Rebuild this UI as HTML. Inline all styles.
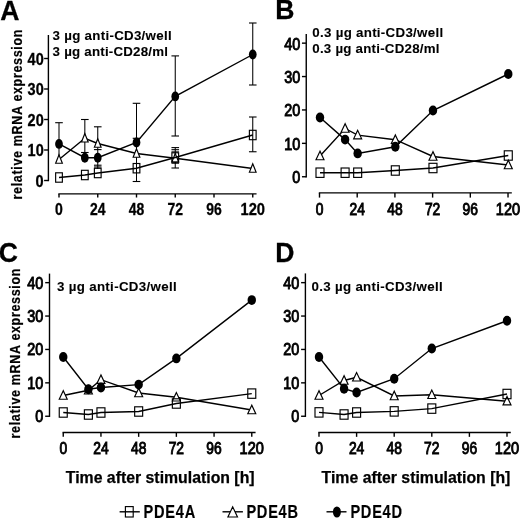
<!DOCTYPE html>
<html><head><meta charset="utf-8"><title>Figure</title>
<style>
html,body{margin:0;padding:0;background:#fff;}
svg{display:block;}
text{font-family:'Liberation Sans', Arial, sans-serif;font-weight:bold;fill:#000;}
text.n{font-weight:normal;}
</style></head><body>
<svg width="520" height="519" viewBox="0 0 520 519">
<rect width="520" height="519" fill="#fff"/>
<line x1="48.40" y1="35.00" x2="48.40" y2="181.20" stroke="#000" stroke-width="1.4"/>
<line x1="44.10" y1="180.50" x2="48.40" y2="180.50" stroke="#000" stroke-width="1.4"/>
<text x="43.70" y="186.50" font-size="15.8" text-anchor="end" textLength="8.1" lengthAdjust="spacingAndGlyphs" stroke="#000" stroke-width="0.3">0</text>
<line x1="44.10" y1="150.00" x2="48.40" y2="150.00" stroke="#000" stroke-width="1.4"/>
<text x="43.70" y="156.00" font-size="15.8" text-anchor="end" textLength="16.1" lengthAdjust="spacingAndGlyphs" stroke="#000" stroke-width="0.3">10</text>
<line x1="44.10" y1="119.50" x2="48.40" y2="119.50" stroke="#000" stroke-width="1.4"/>
<text x="43.70" y="125.50" font-size="15.8" text-anchor="end" textLength="16.1" lengthAdjust="spacingAndGlyphs" stroke="#000" stroke-width="0.3">20</text>
<line x1="44.10" y1="89.00" x2="48.40" y2="89.00" stroke="#000" stroke-width="1.4"/>
<text x="43.70" y="95.00" font-size="15.8" text-anchor="end" textLength="16.1" lengthAdjust="spacingAndGlyphs" stroke="#000" stroke-width="0.3">30</text>
<line x1="44.10" y1="58.50" x2="48.40" y2="58.50" stroke="#000" stroke-width="1.4"/>
<text x="43.70" y="64.50" font-size="15.8" text-anchor="end" textLength="16.1" lengthAdjust="spacingAndGlyphs" stroke="#000" stroke-width="0.3">40</text>
<line x1="58.30" y1="193.90" x2="256.55" y2="193.90" stroke="#000" stroke-width="1.4"/>
<line x1="59.00" y1="193.90" x2="59.00" y2="197.50" stroke="#000" stroke-width="1.4"/>
<text x="59.00" y="214.70" font-size="15.8" text-anchor="middle" textLength="7.8" lengthAdjust="spacingAndGlyphs" stroke="#000" stroke-width="0.3">0</text>
<line x1="97.75" y1="193.90" x2="97.75" y2="197.50" stroke="#000" stroke-width="1.4"/>
<text x="97.75" y="214.70" font-size="15.8" text-anchor="middle" textLength="15.5" lengthAdjust="spacingAndGlyphs" stroke="#000" stroke-width="0.3">24</text>
<line x1="136.50" y1="193.90" x2="136.50" y2="197.50" stroke="#000" stroke-width="1.4"/>
<text x="136.50" y="214.70" font-size="15.8" text-anchor="middle" textLength="15.5" lengthAdjust="spacingAndGlyphs" stroke="#000" stroke-width="0.3">48</text>
<line x1="175.25" y1="193.90" x2="175.25" y2="197.50" stroke="#000" stroke-width="1.4"/>
<text x="175.25" y="214.70" font-size="15.8" text-anchor="middle" textLength="15.5" lengthAdjust="spacingAndGlyphs" stroke="#000" stroke-width="0.3">72</text>
<line x1="214.00" y1="193.90" x2="214.00" y2="197.50" stroke="#000" stroke-width="1.4"/>
<text x="214.00" y="214.70" font-size="15.8" text-anchor="middle" textLength="15.5" lengthAdjust="spacingAndGlyphs" stroke="#000" stroke-width="0.3">96</text>
<line x1="252.75" y1="193.90" x2="252.75" y2="197.50" stroke="#000" stroke-width="1.4"/>
<text x="252.75" y="214.70" font-size="15.8" text-anchor="middle" textLength="24.5" lengthAdjust="spacingAndGlyphs" stroke="#000" stroke-width="0.3">120</text>
<text transform="translate(0.20,19.60) scale(0.97,1)" font-size="27.4" text-anchor="start" stroke="#000" stroke-width="0.3">A</text>
<text transform="translate(52.60,40.10) scale(1.0,1)" font-size="13.3" text-anchor="start" textLength="119.00" lengthAdjust="spacing" stroke="#000" stroke-width="0.1">3 µg anti-CD3/well</text>
<text transform="translate(52.60,55.95) scale(1.0,1)" font-size="13.3" text-anchor="start" textLength="115.40" lengthAdjust="spacing" stroke="#000" stroke-width="0.1">3 µg anti-CD28/ml</text>
<line x1="59.00" y1="122.70" x2="59.00" y2="159.00" stroke="#000" stroke-width="1.05"/>
<line x1="84.83" y1="119.50" x2="84.83" y2="157.00" stroke="#000" stroke-width="1.05"/>
<line x1="97.75" y1="126.80" x2="97.75" y2="169.00" stroke="#000" stroke-width="1.05"/>
<line x1="136.50" y1="103.30" x2="136.50" y2="181.50" stroke="#000" stroke-width="1.05"/>
<line x1="175.25" y1="55.90" x2="175.25" y2="136.00" stroke="#000" stroke-width="1.05"/>
<line x1="175.25" y1="147.60" x2="175.25" y2="168.00" stroke="#000" stroke-width="1.05"/>
<line x1="252.75" y1="23.00" x2="252.75" y2="85.00" stroke="#000" stroke-width="1.05"/>
<line x1="252.75" y1="117.00" x2="252.75" y2="151.75" stroke="#000" stroke-width="1.05"/>
<line x1="55.20" y1="122.70" x2="62.80" y2="122.70" stroke="#000" stroke-width="1.1"/>
<line x1="81.03" y1="119.50" x2="88.63" y2="119.50" stroke="#000" stroke-width="1.1"/>
<line x1="81.03" y1="152.50" x2="88.63" y2="152.50" stroke="#000" stroke-width="1.1"/>
<line x1="93.95" y1="126.80" x2="101.55" y2="126.80" stroke="#000" stroke-width="1.1"/>
<line x1="93.95" y1="149.60" x2="101.55" y2="149.60" stroke="#000" stroke-width="1.1"/>
<line x1="93.95" y1="165.20" x2="101.55" y2="165.20" stroke="#000" stroke-width="1.1"/>
<line x1="93.95" y1="167.00" x2="101.55" y2="167.00" stroke="#000" stroke-width="1.1"/>
<line x1="132.70" y1="103.30" x2="140.30" y2="103.30" stroke="#000" stroke-width="1.1"/>
<line x1="132.70" y1="138.30" x2="140.30" y2="138.30" stroke="#000" stroke-width="1.1"/>
<line x1="132.70" y1="181.50" x2="140.30" y2="181.50" stroke="#000" stroke-width="1.1"/>
<line x1="171.45" y1="55.90" x2="179.05" y2="55.90" stroke="#000" stroke-width="1.1"/>
<line x1="171.45" y1="136.00" x2="179.05" y2="136.00" stroke="#000" stroke-width="1.1"/>
<line x1="171.45" y1="147.60" x2="179.05" y2="147.60" stroke="#000" stroke-width="1.1"/>
<line x1="171.45" y1="149.70" x2="179.05" y2="149.70" stroke="#000" stroke-width="1.1"/>
<line x1="171.45" y1="151.90" x2="179.05" y2="151.90" stroke="#000" stroke-width="1.1"/>
<line x1="171.45" y1="163.20" x2="179.05" y2="163.20" stroke="#000" stroke-width="1.1"/>
<line x1="171.45" y1="168.00" x2="179.05" y2="168.00" stroke="#000" stroke-width="1.1"/>
<line x1="248.95" y1="23.00" x2="256.55" y2="23.00" stroke="#000" stroke-width="1.1"/>
<line x1="248.95" y1="85.00" x2="256.55" y2="85.00" stroke="#000" stroke-width="1.1"/>
<line x1="248.95" y1="117.00" x2="256.55" y2="117.00" stroke="#000" stroke-width="1.1"/>
<line x1="248.95" y1="151.75" x2="256.55" y2="151.75" stroke="#000" stroke-width="1.1"/>
<polyline points="59.00,159.50 84.83,138.30 97.75,143.50 136.50,153.50 175.25,158.30 252.75,168.50" fill="none" stroke="#000" stroke-width="1.4"/>
<polygon points="59.00,154.70 55.64,163.20 62.36,163.20" fill="#fff" stroke="#000" stroke-width="1.15" stroke-linejoin="miter"/>
<polygon points="84.83,133.50 81.47,142.00 88.19,142.00" fill="#fff" stroke="#000" stroke-width="1.15" stroke-linejoin="miter"/>
<polygon points="97.75,138.70 94.39,147.20 101.11,147.20" fill="#fff" stroke="#000" stroke-width="1.15" stroke-linejoin="miter"/>
<polygon points="136.50,148.70 133.14,157.20 139.86,157.20" fill="#fff" stroke="#000" stroke-width="1.15" stroke-linejoin="miter"/>
<polygon points="175.25,153.50 171.89,162.00 178.61,162.00" fill="#fff" stroke="#000" stroke-width="1.15" stroke-linejoin="miter"/>
<polygon points="252.75,163.70 249.39,172.20 256.11,172.20" fill="#fff" stroke="#000" stroke-width="1.15" stroke-linejoin="miter"/>
<polyline points="59.00,177.50 84.83,175.00 97.75,173.00 136.50,168.20 175.25,157.50 252.75,135.00" fill="none" stroke="#000" stroke-width="1.4"/>
<rect x="55.64" y="172.80" width="6.72" height="9.40" fill="none" stroke="#000" stroke-width="1.15"/>
<rect x="81.47" y="170.30" width="6.72" height="9.40" fill="none" stroke="#000" stroke-width="1.15"/>
<rect x="94.39" y="168.30" width="6.72" height="9.40" fill="none" stroke="#000" stroke-width="1.15"/>
<rect x="133.14" y="163.50" width="6.72" height="9.40" fill="none" stroke="#000" stroke-width="1.15"/>
<rect x="171.89" y="152.80" width="6.72" height="9.40" fill="none" stroke="#000" stroke-width="1.15"/>
<rect x="249.39" y="130.30" width="6.72" height="9.40" fill="none" stroke="#000" stroke-width="1.15"/>
<polyline points="59.00,143.90 84.83,157.70 97.75,157.70 136.50,142.50 175.25,96.40 252.75,54.50" fill="none" stroke="#000" stroke-width="1.4"/>
<ellipse cx="59.00" cy="143.90" rx="3.86" ry="4.95" fill="#000"/>
<ellipse cx="84.83" cy="157.70" rx="3.86" ry="4.95" fill="#000"/>
<ellipse cx="97.75" cy="157.70" rx="3.86" ry="4.95" fill="#000"/>
<ellipse cx="136.50" cy="142.50" rx="3.86" ry="4.95" fill="#000"/>
<ellipse cx="175.25" cy="96.40" rx="3.86" ry="4.95" fill="#000"/>
<ellipse cx="252.75" cy="54.50" rx="3.86" ry="4.95" fill="#000"/>
<line x1="306.25" y1="34.00" x2="306.25" y2="177.45" stroke="#000" stroke-width="1.4"/>
<line x1="301.95" y1="176.75" x2="306.25" y2="176.75" stroke="#000" stroke-width="1.4"/>
<text x="300.20" y="183.25" font-size="15.8" text-anchor="end" textLength="8.0" lengthAdjust="spacingAndGlyphs" class="n" stroke="#000" stroke-width="0.9">0</text>
<line x1="301.95" y1="143.35" x2="306.25" y2="143.35" stroke="#000" stroke-width="1.4"/>
<text x="300.20" y="149.85" font-size="15.8" text-anchor="end" textLength="16.0" lengthAdjust="spacingAndGlyphs" class="n" stroke="#000" stroke-width="0.9">10</text>
<line x1="301.95" y1="109.95" x2="306.25" y2="109.95" stroke="#000" stroke-width="1.4"/>
<text x="300.20" y="116.45" font-size="15.8" text-anchor="end" textLength="16.0" lengthAdjust="spacingAndGlyphs" class="n" stroke="#000" stroke-width="0.9">20</text>
<line x1="301.95" y1="76.55" x2="306.25" y2="76.55" stroke="#000" stroke-width="1.4"/>
<text x="300.20" y="83.05" font-size="15.8" text-anchor="end" textLength="16.0" lengthAdjust="spacingAndGlyphs" class="n" stroke="#000" stroke-width="0.9">30</text>
<line x1="301.95" y1="43.15" x2="306.25" y2="43.15" stroke="#000" stroke-width="1.4"/>
<text x="300.20" y="49.65" font-size="15.8" text-anchor="end" textLength="16.0" lengthAdjust="spacingAndGlyphs" class="n" stroke="#000" stroke-width="0.9">40</text>
<line x1="318.80" y1="192.90" x2="511.82" y2="192.90" stroke="#000" stroke-width="1.4"/>
<line x1="319.50" y1="192.90" x2="319.50" y2="197.60" stroke="#000" stroke-width="1.4"/>
<text x="319.50" y="214.90" font-size="15.8" text-anchor="middle" textLength="7.7" lengthAdjust="spacingAndGlyphs" class="n" stroke="#000" stroke-width="0.9">0</text>
<line x1="357.20" y1="192.90" x2="357.20" y2="197.60" stroke="#000" stroke-width="1.4"/>
<text x="357.20" y="214.90" font-size="15.8" text-anchor="middle" textLength="15.4" lengthAdjust="spacingAndGlyphs" class="n" stroke="#000" stroke-width="0.9">24</text>
<line x1="394.91" y1="192.90" x2="394.91" y2="197.60" stroke="#000" stroke-width="1.4"/>
<text x="394.91" y="214.90" font-size="15.8" text-anchor="middle" textLength="15.4" lengthAdjust="spacingAndGlyphs" class="n" stroke="#000" stroke-width="0.9">48</text>
<line x1="432.61" y1="192.90" x2="432.61" y2="197.60" stroke="#000" stroke-width="1.4"/>
<text x="432.61" y="214.90" font-size="15.8" text-anchor="middle" textLength="15.4" lengthAdjust="spacingAndGlyphs" class="n" stroke="#000" stroke-width="0.9">72</text>
<line x1="470.32" y1="192.90" x2="470.32" y2="197.60" stroke="#000" stroke-width="1.4"/>
<text x="470.32" y="214.90" font-size="15.8" text-anchor="middle" textLength="15.4" lengthAdjust="spacingAndGlyphs" class="n" stroke="#000" stroke-width="0.9">96</text>
<line x1="508.02" y1="192.90" x2="508.02" y2="197.60" stroke="#000" stroke-width="1.4"/>
<text x="508.02" y="214.90" font-size="15.8" text-anchor="middle" textLength="24.3" lengthAdjust="spacingAndGlyphs" class="n" stroke="#000" stroke-width="0.9">120</text>
<text transform="translate(275.30,19.30) scale(0.97,1)" font-size="27.4" text-anchor="start" stroke="#000" stroke-width="0.3">B</text>
<text transform="translate(312.30,37.20) scale(1.0,1)" font-size="13.3" text-anchor="start" textLength="130.80" lengthAdjust="spacing" stroke="#000" stroke-width="0.1">0.3 µg anti-CD3/well</text>
<text transform="translate(312.30,53.30) scale(1.0,1)" font-size="13.3" text-anchor="start" textLength="127.20" lengthAdjust="spacing" stroke="#000" stroke-width="0.1">0.3 µg anti-CD28/ml</text>
<polyline points="320.00,156.00 345.10,128.50 357.66,135.10 395.31,139.70 432.97,156.50 508.28,165.00" fill="none" stroke="#000" stroke-width="1.4"/>
<polygon points="320.00,151.20 316.00,159.70 324.00,159.70" fill="#fff" stroke="#000" stroke-width="1.15" stroke-linejoin="miter"/>
<polygon points="345.10,123.70 341.10,132.20 349.10,132.20" fill="#fff" stroke="#000" stroke-width="1.15" stroke-linejoin="miter"/>
<polygon points="357.66,130.30 353.66,138.80 361.66,138.80" fill="#fff" stroke="#000" stroke-width="1.15" stroke-linejoin="miter"/>
<polygon points="395.31,134.90 391.31,143.40 399.31,143.40" fill="#fff" stroke="#000" stroke-width="1.15" stroke-linejoin="miter"/>
<polygon points="432.97,151.70 428.97,160.20 436.97,160.20" fill="#fff" stroke="#000" stroke-width="1.15" stroke-linejoin="miter"/>
<polygon points="508.28,160.20 504.28,168.70 512.28,168.70" fill="#fff" stroke="#000" stroke-width="1.15" stroke-linejoin="miter"/>
<polyline points="320.00,172.70 345.10,172.70 357.66,172.70 395.31,170.50 432.97,168.00 508.28,155.50" fill="none" stroke="#000" stroke-width="1.4"/>
<rect x="316.00" y="168.00" width="8.00" height="9.40" fill="none" stroke="#000" stroke-width="1.15"/>
<rect x="341.10" y="168.00" width="8.00" height="9.40" fill="none" stroke="#000" stroke-width="1.15"/>
<rect x="353.66" y="168.00" width="8.00" height="9.40" fill="none" stroke="#000" stroke-width="1.15"/>
<rect x="391.31" y="165.80" width="8.00" height="9.40" fill="none" stroke="#000" stroke-width="1.15"/>
<rect x="428.97" y="163.30" width="8.00" height="9.40" fill="none" stroke="#000" stroke-width="1.15"/>
<rect x="504.28" y="150.80" width="8.00" height="9.40" fill="none" stroke="#000" stroke-width="1.15"/>
<polyline points="320.00,117.50 345.10,139.60 357.66,153.40 395.31,146.75 432.97,110.50 508.28,74.00" fill="none" stroke="#000" stroke-width="1.4"/>
<ellipse cx="320.00" cy="117.50" rx="4.20" ry="4.95" fill="#000"/>
<ellipse cx="345.10" cy="139.60" rx="4.20" ry="4.95" fill="#000"/>
<ellipse cx="357.66" cy="153.40" rx="4.20" ry="4.95" fill="#000"/>
<ellipse cx="395.31" cy="146.75" rx="4.20" ry="4.95" fill="#000"/>
<ellipse cx="432.97" cy="110.50" rx="4.20" ry="4.95" fill="#000"/>
<ellipse cx="508.28" cy="74.00" rx="4.20" ry="4.95" fill="#000"/>
<line x1="49.50" y1="273.60" x2="49.50" y2="416.95" stroke="#000" stroke-width="1.4"/>
<line x1="45.20" y1="416.25" x2="49.50" y2="416.25" stroke="#000" stroke-width="1.4"/>
<text x="43.30" y="422.25" font-size="15.8" text-anchor="end" textLength="8.0" lengthAdjust="spacingAndGlyphs" class="n" stroke="#000" stroke-width="0.9">0</text>
<line x1="45.20" y1="382.85" x2="49.50" y2="382.85" stroke="#000" stroke-width="1.4"/>
<text x="43.30" y="388.85" font-size="15.8" text-anchor="end" textLength="16.0" lengthAdjust="spacingAndGlyphs" class="n" stroke="#000" stroke-width="0.9">10</text>
<line x1="45.20" y1="349.45" x2="49.50" y2="349.45" stroke="#000" stroke-width="1.4"/>
<text x="43.30" y="355.45" font-size="15.8" text-anchor="end" textLength="16.0" lengthAdjust="spacingAndGlyphs" class="n" stroke="#000" stroke-width="0.9">20</text>
<line x1="45.20" y1="316.05" x2="49.50" y2="316.05" stroke="#000" stroke-width="1.4"/>
<text x="43.30" y="322.05" font-size="15.8" text-anchor="end" textLength="16.0" lengthAdjust="spacingAndGlyphs" class="n" stroke="#000" stroke-width="0.9">30</text>
<line x1="45.20" y1="282.65" x2="49.50" y2="282.65" stroke="#000" stroke-width="1.4"/>
<text x="43.30" y="288.65" font-size="15.8" text-anchor="end" textLength="16.0" lengthAdjust="spacingAndGlyphs" class="n" stroke="#000" stroke-width="0.9">40</text>
<line x1="62.55" y1="432.45" x2="255.57" y2="432.45" stroke="#000" stroke-width="1.4"/>
<line x1="63.25" y1="432.45" x2="63.25" y2="436.85" stroke="#000" stroke-width="1.4"/>
<text x="63.25" y="454.40" font-size="15.8" text-anchor="middle" textLength="7.7" lengthAdjust="spacingAndGlyphs" class="n" stroke="#000" stroke-width="0.9">0</text>
<line x1="100.95" y1="432.45" x2="100.95" y2="436.85" stroke="#000" stroke-width="1.4"/>
<text x="100.95" y="454.40" font-size="15.8" text-anchor="middle" textLength="15.4" lengthAdjust="spacingAndGlyphs" class="n" stroke="#000" stroke-width="0.9">24</text>
<line x1="138.66" y1="432.45" x2="138.66" y2="436.85" stroke="#000" stroke-width="1.4"/>
<text x="138.66" y="454.40" font-size="15.8" text-anchor="middle" textLength="15.4" lengthAdjust="spacingAndGlyphs" class="n" stroke="#000" stroke-width="0.9">48</text>
<line x1="176.36" y1="432.45" x2="176.36" y2="436.85" stroke="#000" stroke-width="1.4"/>
<text x="176.36" y="454.40" font-size="15.8" text-anchor="middle" textLength="15.4" lengthAdjust="spacingAndGlyphs" class="n" stroke="#000" stroke-width="0.9">72</text>
<line x1="214.07" y1="432.45" x2="214.07" y2="436.85" stroke="#000" stroke-width="1.4"/>
<text x="214.07" y="454.40" font-size="15.8" text-anchor="middle" textLength="15.4" lengthAdjust="spacingAndGlyphs" class="n" stroke="#000" stroke-width="0.9">96</text>
<line x1="251.77" y1="432.45" x2="251.77" y2="436.85" stroke="#000" stroke-width="1.4"/>
<text x="251.77" y="454.40" font-size="15.8" text-anchor="middle" textLength="24.3" lengthAdjust="spacingAndGlyphs" class="n" stroke="#000" stroke-width="0.9">120</text>
<text transform="translate(-1.30,262.40) scale(0.97,1)" font-size="27.4" text-anchor="start" stroke="#000" stroke-width="0.3">C</text>
<text transform="translate(57.00,290.50) scale(1.0,1)" font-size="13.3" text-anchor="start" textLength="119.60" lengthAdjust="spacing" stroke="#000" stroke-width="0.1">3 µg anti-CD3/well</text>
<polyline points="63.25,395.50 88.39,390.30 100.95,379.70 138.66,393.00 176.36,397.30 251.77,410.00" fill="none" stroke="#000" stroke-width="1.4"/>
<polygon points="63.25,390.70 59.25,399.20 67.25,399.20" fill="#fff" stroke="#000" stroke-width="1.15" stroke-linejoin="miter"/>
<polygon points="88.39,385.50 84.39,394.00 92.39,394.00" fill="#fff" stroke="#000" stroke-width="1.15" stroke-linejoin="miter"/>
<polygon points="100.95,374.90 96.95,383.40 104.95,383.40" fill="#fff" stroke="#000" stroke-width="1.15" stroke-linejoin="miter"/>
<polygon points="138.66,388.20 134.66,396.70 142.66,396.70" fill="#fff" stroke="#000" stroke-width="1.15" stroke-linejoin="miter"/>
<polygon points="176.36,392.50 172.36,401.00 180.36,401.00" fill="#fff" stroke="#000" stroke-width="1.15" stroke-linejoin="miter"/>
<polygon points="251.77,405.20 247.77,413.70 255.77,413.70" fill="#fff" stroke="#000" stroke-width="1.15" stroke-linejoin="miter"/>
<polyline points="63.25,412.50 88.39,414.50 100.95,412.50 138.66,411.50 176.36,403.50 251.77,393.60" fill="none" stroke="#000" stroke-width="1.4"/>
<rect x="59.25" y="407.80" width="8.00" height="9.40" fill="none" stroke="#000" stroke-width="1.15"/>
<rect x="84.39" y="409.80" width="8.00" height="9.40" fill="none" stroke="#000" stroke-width="1.15"/>
<rect x="96.95" y="407.80" width="8.00" height="9.40" fill="none" stroke="#000" stroke-width="1.15"/>
<rect x="134.66" y="406.80" width="8.00" height="9.40" fill="none" stroke="#000" stroke-width="1.15"/>
<rect x="172.36" y="398.80" width="8.00" height="9.40" fill="none" stroke="#000" stroke-width="1.15"/>
<rect x="247.77" y="388.90" width="8.00" height="9.40" fill="none" stroke="#000" stroke-width="1.15"/>
<polyline points="63.25,357.00 88.39,389.25 100.95,387.50 138.66,384.60 176.36,358.40 251.77,300.10" fill="none" stroke="#000" stroke-width="1.4"/>
<ellipse cx="63.25" cy="357.00" rx="4.20" ry="4.95" fill="#000"/>
<ellipse cx="88.39" cy="389.25" rx="4.20" ry="4.95" fill="#000"/>
<ellipse cx="100.95" cy="387.50" rx="4.20" ry="4.95" fill="#000"/>
<ellipse cx="138.66" cy="384.60" rx="4.20" ry="4.95" fill="#000"/>
<ellipse cx="176.36" cy="358.40" rx="4.20" ry="4.95" fill="#000"/>
<ellipse cx="251.77" cy="300.10" rx="4.20" ry="4.95" fill="#000"/>
<text x="65.80" y="482.60" font-size="15.9" text-anchor="start" textLength="188.8" lengthAdjust="spacingAndGlyphs" stroke="#000" stroke-width="0.25">Time after stimulation [h]</text>
<line x1="305.40" y1="273.40" x2="305.40" y2="416.95" stroke="#000" stroke-width="1.4"/>
<line x1="301.10" y1="416.25" x2="305.40" y2="416.25" stroke="#000" stroke-width="1.4"/>
<text x="299.30" y="422.25" font-size="15.8" text-anchor="end" textLength="8.0" lengthAdjust="spacingAndGlyphs" class="n" stroke="#000" stroke-width="0.9">0</text>
<line x1="301.10" y1="382.85" x2="305.40" y2="382.85" stroke="#000" stroke-width="1.4"/>
<text x="299.30" y="388.85" font-size="15.8" text-anchor="end" textLength="16.0" lengthAdjust="spacingAndGlyphs" class="n" stroke="#000" stroke-width="0.9">10</text>
<line x1="301.10" y1="349.45" x2="305.40" y2="349.45" stroke="#000" stroke-width="1.4"/>
<text x="299.30" y="355.45" font-size="15.8" text-anchor="end" textLength="16.0" lengthAdjust="spacingAndGlyphs" class="n" stroke="#000" stroke-width="0.9">20</text>
<line x1="301.10" y1="316.05" x2="305.40" y2="316.05" stroke="#000" stroke-width="1.4"/>
<text x="299.30" y="322.05" font-size="15.8" text-anchor="end" textLength="16.0" lengthAdjust="spacingAndGlyphs" class="n" stroke="#000" stroke-width="0.9">30</text>
<line x1="301.10" y1="282.65" x2="305.40" y2="282.65" stroke="#000" stroke-width="1.4"/>
<text x="299.30" y="288.65" font-size="15.8" text-anchor="end" textLength="16.0" lengthAdjust="spacingAndGlyphs" class="n" stroke="#000" stroke-width="0.9">40</text>
<line x1="318.30" y1="432.45" x2="510.80" y2="432.45" stroke="#000" stroke-width="1.4"/>
<line x1="319.00" y1="432.45" x2="319.00" y2="436.85" stroke="#000" stroke-width="1.4"/>
<text x="319.00" y="454.40" font-size="15.8" text-anchor="middle" textLength="7.7" lengthAdjust="spacingAndGlyphs" class="n" stroke="#000" stroke-width="0.9">0</text>
<line x1="356.60" y1="432.45" x2="356.60" y2="436.85" stroke="#000" stroke-width="1.4"/>
<text x="356.60" y="454.40" font-size="15.8" text-anchor="middle" textLength="15.4" lengthAdjust="spacingAndGlyphs" class="n" stroke="#000" stroke-width="0.9">24</text>
<line x1="394.20" y1="432.45" x2="394.20" y2="436.85" stroke="#000" stroke-width="1.4"/>
<text x="394.20" y="454.40" font-size="15.8" text-anchor="middle" textLength="15.4" lengthAdjust="spacingAndGlyphs" class="n" stroke="#000" stroke-width="0.9">48</text>
<line x1="431.80" y1="432.45" x2="431.80" y2="436.85" stroke="#000" stroke-width="1.4"/>
<text x="431.80" y="454.40" font-size="15.8" text-anchor="middle" textLength="15.4" lengthAdjust="spacingAndGlyphs" class="n" stroke="#000" stroke-width="0.9">72</text>
<line x1="469.40" y1="432.45" x2="469.40" y2="436.85" stroke="#000" stroke-width="1.4"/>
<text x="469.40" y="454.40" font-size="15.8" text-anchor="middle" textLength="15.4" lengthAdjust="spacingAndGlyphs" class="n" stroke="#000" stroke-width="0.9">96</text>
<line x1="507.00" y1="432.45" x2="507.00" y2="436.85" stroke="#000" stroke-width="1.4"/>
<text x="507.00" y="454.40" font-size="15.8" text-anchor="middle" textLength="24.3" lengthAdjust="spacingAndGlyphs" class="n" stroke="#000" stroke-width="0.9">120</text>
<text transform="translate(275.20,262.40) scale(0.97,1)" font-size="27.4" text-anchor="start" stroke="#000" stroke-width="0.3">D</text>
<text transform="translate(311.60,290.50) scale(1.0,1)" font-size="13.3" text-anchor="start" textLength="131.00" lengthAdjust="spacing" stroke="#000" stroke-width="0.1">0.3 µg anti-CD3/well</text>
<polyline points="319.00,395.50 344.07,380.50 356.60,377.30 394.20,396.00 431.80,394.80 507.00,401.20" fill="none" stroke="#000" stroke-width="1.4"/>
<polygon points="319.00,390.70 315.00,399.20 323.00,399.20" fill="#fff" stroke="#000" stroke-width="1.15" stroke-linejoin="miter"/>
<polygon points="344.07,375.70 340.07,384.20 348.07,384.20" fill="#fff" stroke="#000" stroke-width="1.15" stroke-linejoin="miter"/>
<polygon points="356.60,372.50 352.60,381.00 360.60,381.00" fill="#fff" stroke="#000" stroke-width="1.15" stroke-linejoin="miter"/>
<polygon points="394.20,391.20 390.20,399.70 398.20,399.70" fill="#fff" stroke="#000" stroke-width="1.15" stroke-linejoin="miter"/>
<polygon points="431.80,390.00 427.80,398.50 435.80,398.50" fill="#fff" stroke="#000" stroke-width="1.15" stroke-linejoin="miter"/>
<polygon points="507.00,396.40 503.00,404.90 511.00,404.90" fill="#fff" stroke="#000" stroke-width="1.15" stroke-linejoin="miter"/>
<polyline points="319.00,412.40 344.07,414.50 356.60,412.50 394.20,411.40 431.80,408.60 507.00,394.00" fill="none" stroke="#000" stroke-width="1.4"/>
<rect x="315.00" y="407.70" width="8.00" height="9.40" fill="none" stroke="#000" stroke-width="1.15"/>
<rect x="340.07" y="409.80" width="8.00" height="9.40" fill="none" stroke="#000" stroke-width="1.15"/>
<rect x="352.60" y="407.80" width="8.00" height="9.40" fill="none" stroke="#000" stroke-width="1.15"/>
<rect x="390.20" y="406.70" width="8.00" height="9.40" fill="none" stroke="#000" stroke-width="1.15"/>
<rect x="427.80" y="403.90" width="8.00" height="9.40" fill="none" stroke="#000" stroke-width="1.15"/>
<rect x="503.00" y="389.30" width="8.00" height="9.40" fill="none" stroke="#000" stroke-width="1.15"/>
<polyline points="319.00,357.00 344.07,388.75 356.60,392.50 394.20,378.75 431.80,348.50 507.00,320.75" fill="none" stroke="#000" stroke-width="1.4"/>
<ellipse cx="319.00" cy="357.00" rx="4.20" ry="4.95" fill="#000"/>
<ellipse cx="344.07" cy="388.75" rx="4.20" ry="4.95" fill="#000"/>
<ellipse cx="356.60" cy="392.50" rx="4.20" ry="4.95" fill="#000"/>
<ellipse cx="394.20" cy="378.75" rx="4.20" ry="4.95" fill="#000"/>
<ellipse cx="431.80" cy="348.50" rx="4.20" ry="4.95" fill="#000"/>
<ellipse cx="507.00" cy="320.75" rx="4.20" ry="4.95" fill="#000"/>
<text x="321.60" y="482.60" font-size="15.9" text-anchor="start" textLength="188.8" lengthAdjust="spacingAndGlyphs" stroke="#000" stroke-width="0.25">Time after stimulation [h]</text>
<text transform="translate(21.6,114.5) rotate(-90) scale(0.87,1)" font-size="14.4" text-anchor="middle" textLength="195.2" lengthAdjust="spacing" stroke="#000" stroke-width="0.2">relative mRNA expression</text>
<text transform="translate(19.9,353.5) rotate(-90) scale(0.87,1)" font-size="14.4" text-anchor="middle" textLength="195.2" lengthAdjust="spacing" stroke="#000" stroke-width="0.2">relative mRNA expression</text>
<line x1="119.60" y1="511.80" x2="139.80" y2="511.80" stroke="#000" stroke-width="1.4"/>
<rect x="125.40" y="506.60" width="7.80" height="10.40" fill="none" stroke="#000" stroke-width="1.15"/>
<text transform="translate(143.60,517.80) scale(0.82,1)" font-size="17.8" text-anchor="start" textLength="62.93" lengthAdjust="spacing" stroke="#000" stroke-width="0.15">PDE4A</text>
<line x1="222.50" y1="511.80" x2="242.90" y2="511.80" stroke="#000" stroke-width="1.4"/>
<polygon points="232.70,506.84 227.90,517.04 237.50,517.04" fill="#fff" stroke="#000" stroke-width="1.15" stroke-linejoin="miter"/>
<text transform="translate(246.40,517.80) scale(0.82,1)" font-size="17.8" text-anchor="start" textLength="62.93" lengthAdjust="spacing" stroke="#000" stroke-width="0.15">PDE4B</text>
<line x1="326.50" y1="511.80" x2="346.50" y2="511.80" stroke="#000" stroke-width="1.4"/>
<ellipse cx="336.90" cy="512.00" rx="4.00" ry="5.50" fill="#000"/>
<text transform="translate(350.40,517.80) scale(0.82,1)" font-size="17.8" text-anchor="start" textLength="62.93" lengthAdjust="spacing" stroke="#000" stroke-width="0.15">PDE4D</text>
</svg>
</body></html>
